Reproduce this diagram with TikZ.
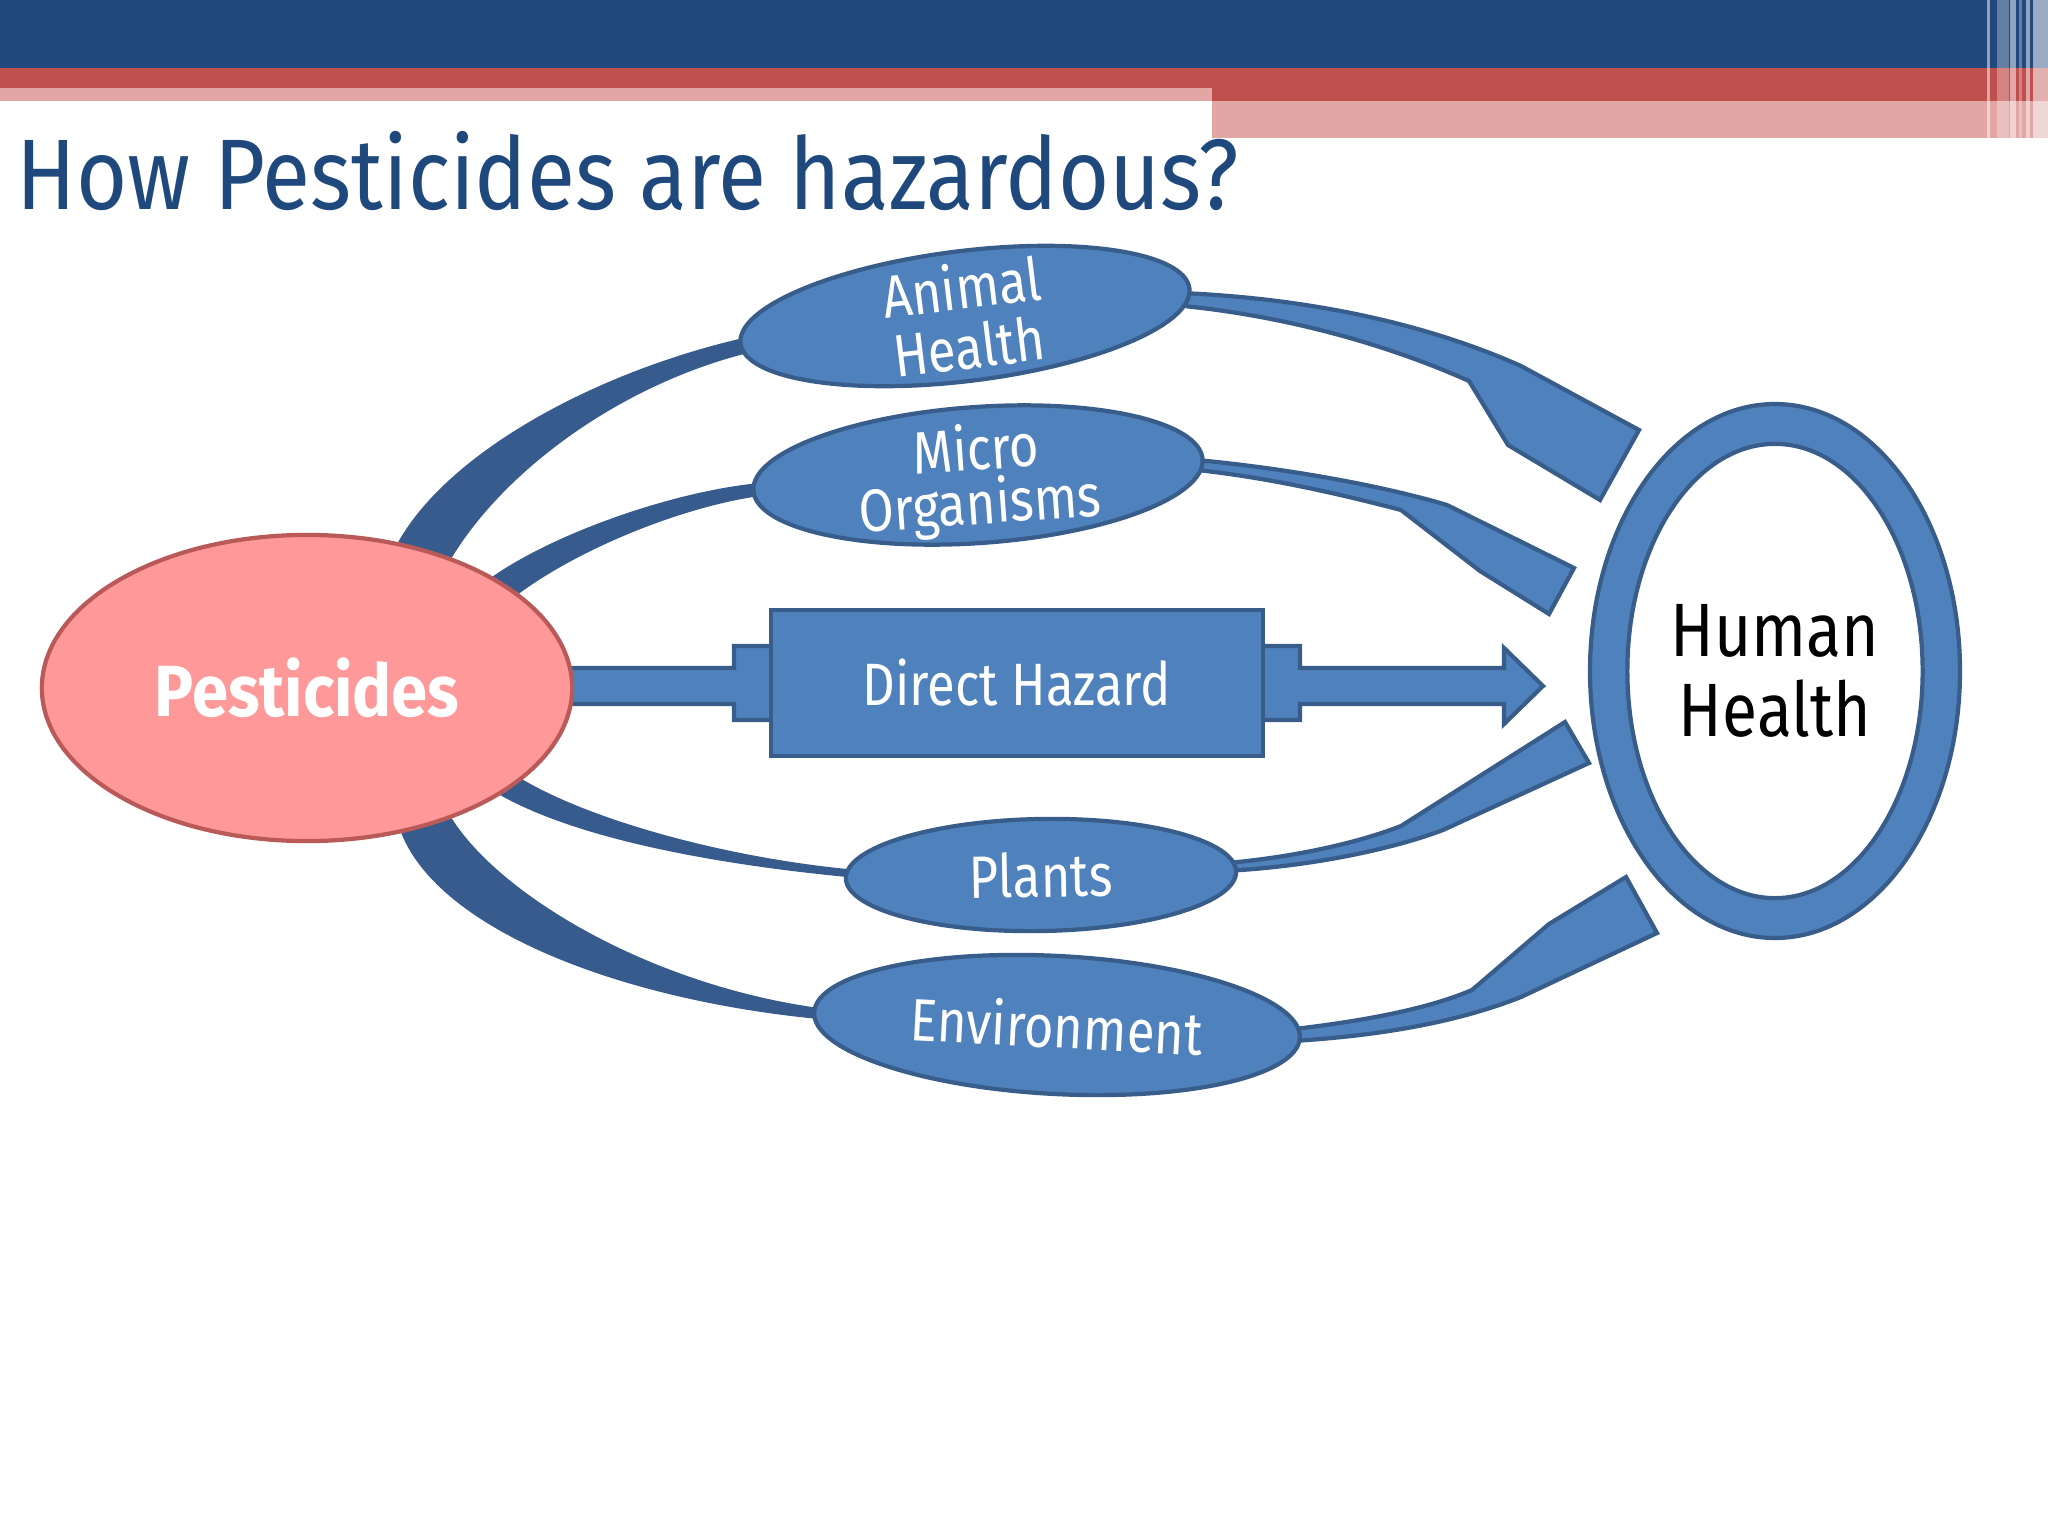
\documentclass[tikz,border=0pt]{standalone}
\usepackage{fontspec}
\setmainfont{Fira Sans}[FakeStretch=0.85]
\newfontfamily\titlefont{Fira Sans}[FakeStretch=0.877]
\newfontfamily\pestfont{Fira Sans}[FakeStretch=0.9]
\usetikzlibrary{calc,backgrounds,shapes.geometric}

\definecolor{bannerblue}{RGB}{33,73,125}
\definecolor{bannerred}{RGB}{192,80,77}
\definecolor{bannerpink}{RGB}{226,166,165}
\definecolor{titleblue}{RGB}{31,73,125}
\definecolor{pestpink}{RGB}{255,153,153}
\definecolor{pestedge}{RGB}{185,90,88}
\definecolor{flowblue}{RGB}{79,129,189}
\definecolor{flowedge}{RGB}{56,93,138}
\definecolor{banddark}{RGB}{55,91,140}

\tikzset{
    blob/.style={ellipse, draw=flowedge, fill=flowblue, line width=1.2pt,
        inner xsep=0pt, inner ysep=-0.3cm, text=white, align=center,
        font=\fontsize{17}{17}\selectfont},
    band/.style={fill=banddark},
    flow/.style={fill=flowblue, draw=flowedge, line width=1.2pt, line join=miter},
}

\begin{document}
\begin{tikzpicture}[x=0.01cm, y=-0.01cm]
    \useasboundingbox (0,0) rectangle (2048,1536);

    % banner
    \fill[bannerblue] (0,0) rectangle (2048,68);
    \fill[bannerred] (0,68) rectangle (1212,88);
    \fill[bannerpink] (0,88) rectangle (1212,101);
    \fill[bannerred] (1212,68) rectangle (2048,101);
    \fill[bannerpink] (1212,101) rectangle (2048,138);
    \foreach \x/\w/\o in {1987/3/0.5, 1997/12/0.3, 2010/6/0.5, 2019/3/0.3, 2026/4/0.5, 2033/15/0.55}
        \fill[white, opacity=\o] (\x,0) rectangle ++(\w,138);

    \node[anchor=base west, inner sep=0pt, text=titleblue,
        font=\fontsize{28.5}{30}\titlefont] (title) at (16,209) {How Pesticides are hazardous?};

    % nodes
    \node (pest) [ellipse, draw=pestedge, fill=pestpink, line width=1.2pt, inner sep=0pt,
        minimum width=5.30cm, minimum height=3.06cm, text=white,
        font=\fontsize{20.6}{22}\pestfont\bfseries] at (307,688) {Pesticides};
    \node (animal) [blob, rotate=7, minimum width=4.52cm, minimum height=1.30cm] at (965,316) {Animal\\Health};
    \node (micro) [blob, rotate=4, minimum width=4.50cm, minimum height=1.36cm] at (978,475) {\raisebox{-0.23cm}[0pt][0pt]{\begin{tabular}{@{}c@{}}Micro\\[-3pt]Organisms\end{tabular}}};
    \node (hazard) [rectangle, draw=flowedge, fill=flowblue, line width=1.2pt, text=white,
        minimum width=4.92cm, minimum height=1.46cm,
        font=\fontsize{17}{17}\selectfont] at (1017,683) {Direct Hazard};
    \node (plants) [blob, rotate=1, minimum width=3.90cm, minimum height=1.12cm] at (1041,875) {Plants};
    \node (env) [blob, rotate=-3, minimum width=4.86cm, minimum height=1.38cm] at (1057,1025) {Environment};
    \node (human) [ellipse, draw=flowedge, fill=white, line width=1.2pt, inner sep=0pt,
        minimum width=2.92cm, minimum height=4.54cm, align=center,
        font=\fontsize{21.5}{22.7}\selectfont] at (1775,671) {Human\\Health};

    \begin{scope}[on background layer]
        % ring round human health
        \filldraw[flow] (human.center) ellipse [x radius=185, y radius=267];

        % bands out of pesticides
        \fill[band] (pest.58) .. controls (450,450) and (600,370) .. ($(animal.west)+(10,-7)$)
            -- ($(animal.west)+(10,9)$) .. controls (620,385) and (505,470) .. (pest.42) -- cycle;
        \fill[band] (pest.31) .. controls (560,530) and (680,490) .. ($(micro.west)+(10,-8)$)
            -- ($(micro.west)+(10,5)$) .. controls (690,505) and (585,545) .. (pest.24) -- cycle;
        \fill[band] (pest.-23) .. controls (595,822) and (730,858) .. ($(plants.west)+(8,-9)$)
            -- ($(plants.west)+(8,-1)$) .. controls (720,865) and (580,840) .. (pest.-29) -- cycle;
        \fill[band] (pest.-42) .. controls (500,895) and (650,985) .. ($(env.west)+(8,-4)$)
            -- ($(env.west)+(8,7)$) .. controls (620,1000) and (440,930) .. (pest.-57) -- cycle;

        % direct hazard arrow
        \filldraw[flow] ($(pest.east)+(-12,-20)$) -- (734,668) -- (734,646) -- (1300,646) -- (1300,668)
            -- (1504,668) -- (1504,648) -- (1543,686) -- (1504,724) -- (1504,704) -- (1300,704)
            -- (1300,720) -- (734,720) -- (734,704) -- ($(pest.east)+(-12,16)$);

        % arrows into human health
        \filldraw[flow] ($(animal.east)+(-6,5)$) .. controls (1330,300) and (1440,330) .. (1521,366)
            -- (1639,430) -- (1600,500) -- (1508,445) -- (1469,381)
            .. controls (1400,350) and (1300,318) .. ($(animal.east)+(-6,18)$);
        \filldraw[flow] ($(micro.east)+(-6,1)$) .. controls (1300,470) and (1390,488) .. (1447,505)
            -- (1574,568) -- (1549,614) -- (1480,571) -- (1401,510)
            .. controls (1340,494) and (1270,478) .. ($(micro.east)+(-6,11)$);
        \filldraw[flow] ($(plants.east)+(-6,-9)$) .. controls (1300,856) and (1360,842) .. (1401,826)
            -- (1565,722) -- (1589,763) -- (1443,830)
            .. controls (1390,850) and (1310,866) .. ($(plants.east)+(-6,-1)$);
        \filldraw[flow] ($(env.east)+(-6,-9)$) .. controls (1370,1020) and (1430,1008) .. (1472,990)
            -- (1549,924) -- (1626,877) -- (1657,933) -- (1521,997)
            .. controls (1450,1025) and (1370,1036) .. ($(env.east)+(-6,3)$);
    \end{scope}
\end{tikzpicture}
\end{document}
